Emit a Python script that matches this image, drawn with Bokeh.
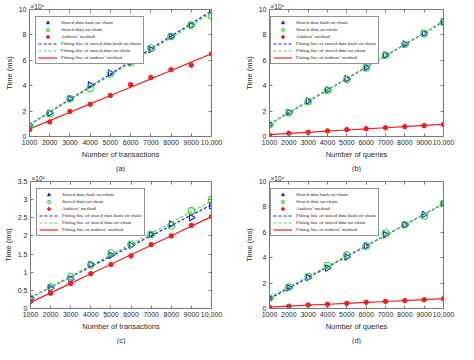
import numpy as np
from bokeh.plotting import figure
from bokeh.models import (LinearAxis, Legend, LegendItem, Title, FixedTicker, Range1d)
from bokeh.layouts import column, row
from bokeh.embed import file_html
from bokeh.resources import INLINE

x_vals = [1000, 2000, 3000, 4000, 5000, 6000, 7000, 8000, 9000, 10000]
x_tick_labels = ["1000", "2000", "3000", "4000", "5000", "6000", "7000", "8000", "9000", "10,000"]

a_hash = [9000, 18500, 29700, 40500, 50000, 58700, 68500, 78700, 87700, 100000]
a_data = [8200, 18000, 29700, 37700, 49200, 58000, 69700, 78700, 87700, 95000]
a_auth = [5400, 11500, 19700, 25400, 32300, 40800, 46400, 52600, 56200, 65000]

b_hash = [9500, 19000, 28000, 36700, 45400, 54400, 64100, 72800, 81300, 90300]
b_data = [9300, 18700, 27500, 36400, 45000, 54000, 64000, 72500, 81000, 90000]
b_auth = [1000, 2600, 3300, 4400, 5400, 6200, 6900, 7700, 8500, 9500]

c_hash = [29000, 56000, 81000, 121000, 147000, 174000, 204000, 233000, 251000, 283000]
c_data = [29000, 59000, 88000, 120000, 153000, 177000, 204000, 228000, 269000, 300000]
c_auth = [19000, 42000, 69000, 96000, 121000, 145000, 176000, 200000, 229000, 253000]

d_hash = [8000, 16400, 24400, 31800, 40500, 49200, 58000, 65900, 74100, 82600]
d_data = [8200, 16900, 25100, 33800, 42000, 49200, 59500, 65900, 72800, 82600]
d_auth = [1000, 1800, 2800, 3300, 4100, 4900, 5600, 6200, 6900, 7700]

y_ticks_1e4 = [0, 20000, 40000, 60000, 80000, 100000]
y_labels_1e4 = ["0", "2", "4", "6", "8", "10"]
y_ticks_1e5 = [0, 50000, 100000, 150000, 200000, 250000, 300000, 350000]
y_labels_1e5 = ["0", "0.5", "1", "1.5", "2", "2.5", "3", "3.5"]

legend_labels = ["Stored data hash on-chain", "Stored data on-chain", "Authors\u2019 method",
                 "Fitting line of stored data hash on-chain",
                 "Fitting line of stored data on-chain",
                 "Fitting line of authors\u2019 method"]

BLUE = "#1a1ae6"
GREEN = "#2fd62f"
GREEN_LINE = "#55d955"
RED = "#ec2024"
AX = "#7a7a7a"
TXT = "#2a2a2a"


def style_axis(ax):
    ax.axis_line_color = AX
    ax.major_tick_line_color = AX
    ax.major_tick_in = 3
    ax.major_tick_out = 0
    ax.minor_tick_line_color = None
    ax.major_label_text_font = "Liberation Sans"
    ax.major_label_text_font_size = "7px"
    ax.major_label_text_color = TXT
    ax.axis_label_text_font = "Liberation Sans"
    ax.axis_label_text_font_size = "7.5px"
    ax.axis_label_text_font_style = "normal"
    ax.axis_label_text_color = TXT
    ax.major_label_standoff = 3
    ax.axis_label_standoff = 2


def make_panel(hash_v, data_v, auth_v, yticks, ylabels, ymax, exp_text, xlabel, caption,
               left, right, leg_x):
    p = figure(width=229, height=172, output_backend="svg", toolbar_location=None,
               x_range=Range1d(1000, 10000), y_range=Range1d(0, ymax),
               min_border_left=left, min_border_right=right, min_border_top=4,
               min_border_bottom=10, x_axis_type=None, y_axis_type=None)
    p.xgrid.visible = False
    p.ygrid.visible = False
    p.outline_line_color = AX
    p.background_fill_color = "white"
    p.border_fill_color = "white"

    xt = FixedTicker(ticks=x_vals)
    yt = FixedTicker(ticks=yticks)
    xax = LinearAxis(ticker=xt, axis_label=xlabel,
                     major_label_overrides={v: l for v, l in zip(x_vals, x_tick_labels)})
    yax = LinearAxis(ticker=yt, axis_label="Time (ms)",
                     major_label_overrides={v: l for v, l in zip(yticks, ylabels)})
    top = LinearAxis(ticker=xt, major_label_overrides={v: "" for v in x_vals})
    rgt = LinearAxis(ticker=yt, major_label_overrides={v: "" for v in yticks})
    for ax in (xax, yax, top, rgt):
        style_axis(ax)
    for ax in (top, rgt):
        ax.major_label_standoff = 0
        ax.major_label_text_font_size = "1px"
    p.add_layout(xax, "below")
    p.add_layout(yax, "left")
    p.add_layout(top, "above")
    p.add_layout(rgt, "right")
    p.add_layout(Title(text=exp_text, align="left", text_font="Liberation Sans",
                       text_font_size="6.5px", text_font_style="normal",
                       text_color=TXT, standoff=0, offset=1), "above")

    xs = np.array(x_vals, dtype=float)
    fits = [np.polyval(np.polyfit(xs, np.array(v, dtype=float), 1), xs) for v in (hash_v, data_v, auth_v)]

    l_hash = p.line(x_vals, fits[0], line_color=BLUE, line_dash="3 2", line_width=1.2)
    l_data = p.line(x_vals, fits[1], line_color=GREEN_LINE, line_dash="3 2", line_width=1.2)
    l_auth = p.line(x_vals, fits[2], line_color=RED, line_width=1.2)
    s_hash = p.scatter(x_vals, hash_v, marker="triangle", angle=-90, angle_units="deg", size=6.5,
                       fill_color=None, line_color=BLUE, line_width=1.1)
    s_data = p.scatter(x_vals, data_v, marker="circle", size=6.5,
                       fill_color=None, line_color=GREEN, line_width=1.1)
    s_auth = p.scatter(x_vals, auth_v, marker="circle", size=4.5,
                       fill_color=RED, line_color=RED, line_width=1)

    items = [LegendItem(label=legend_labels[i], renderers=[r])
             for i, r in enumerate([s_hash, s_data, s_auth, l_hash, l_data, l_auth])]
    leg = Legend(items=items, location=(leg_x, 72), padding=2, spacing=0,
                 label_text_font="Liberation Serif", label_text_font_size="5px",
                 label_text_color="#222222", label_height=7, glyph_height=7,
                 glyph_width=19, label_standoff=4, border_line_color="#222222",
                 border_line_width=1, background_fill_alpha=1, margin=0)
    p.add_layout(leg, "center")

    p.add_layout(Title(text=caption, align="center", text_font="Liberation Sans",
                       text_font_size="7.5px", text_font_style="normal",
                       text_color=TXT, standoff=0), "below")
    return p


pa = make_panel(a_hash, a_data, a_auth, y_ticks_1e4, y_labels_1e4, 100000, "×10⁴",
                "Number of transactions", "(a)", 29, 18, 6)
pb = make_panel(b_hash, b_data, b_auth, y_ticks_1e4, y_labels_1e4, 100000, "×10⁴",
                "Number of queries", "(b)", 40, 15, 1)
pc = make_panel(c_hash, c_data, c_auth, y_ticks_1e5, y_labels_1e5, 350000, "×10⁵",
                "Number of transactions", "(c)", 29, 18, 6)
pd = make_panel(d_hash, d_data, d_auth, y_ticks_1e4, y_labels_1e4, 100000, "×10⁴",
                "Number of queries", "(d)", 40, 15, 1)

layout = column(row(pa, pb), row(pc, pd))
open("out.html", "w").write(file_html(layout, INLINE))
